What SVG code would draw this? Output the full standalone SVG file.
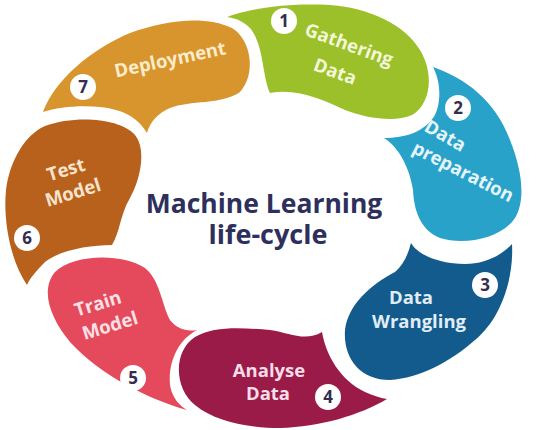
<svg xmlns="http://www.w3.org/2000/svg" width="559" height="430" viewBox="0 0 559 430">
<style>
.lbl{font-family:"Open Sans","Liberation Sans",sans-serif;font-weight:700;font-size:18.5px;text-anchor:middle}
.num{font-family:"Open Sans","Liberation Sans",sans-serif;font-weight:700;font-size:17px;text-anchor:middle;fill:#352c4e}
.badge{fill:#ffffff}
.title{font-family:"Open Sans","Liberation Sans",sans-serif;font-weight:700;text-anchor:middle;fill:#2e2f5c}
</style>
<rect width="559" height="430" fill="#ffffff"/>
<g id="connectors"/>
<g id="step7">
<path fill="#d8952d" d="M43,112 C55,80 90,50 130,33 C165,20 205,15 232,28 C252,40 256,75 240,92 C222,105 190,100 170,108 C158,113 150,122 147,133 C138,118 125,110 100,107 C80,105 58,107 43,112 Z"/>
<circle class="badge" cx="83" cy="87" r="13"/>
<text class="num" x="83" y="93">7</text>
<text class="lbl" fill="#fcecc9" font-size="20.5" transform="translate(170,59) rotate(-12)" y="7">Deployment</text>
</g>
<g id="step1">
<path fill="#9cc02a" d="M227,17 C250,8 290,3 330,5 C370,8 405,25 420,50 C435,75 430,105 412,115 C395,123 365,118 345,110 C320,98 295,88 270,93 C262,75 264,45 250,28 C243,21 235,18 227,17 Z"/>
<circle class="badge" cx="284" cy="21" r="13"/>
<text class="num" x="284" y="27">1</text>
<text class="lbl" fill="#f2f7d8" transform="translate(349,45) rotate(20)" y="6">Gathering</text>
<text class="lbl" fill="#f2f7d8" transform="translate(335,72) rotate(20)" y="6">Data</text>
</g>
<g id="step2">
<path fill="#29a2ca" d="M433,67 C465,78 495,100 510,140 C522,170 526,200 515,218 C502,238 465,246 440,238 C420,230 414,210 413,190 C410,170 400,148 384,138 C405,138 425,132 435,115 C442,100 440,80 433,67 Z"/>
<circle class="badge" cx="458" cy="108" r="13"/>
<text class="num" x="458" y="114">2</text>
<text class="lbl" fill="#e6f5fa" transform="translate(445,136) rotate(30)" y="6">Data</text>
<text class="lbl" fill="#e6f5fa" transform="translate(463,172) rotate(27)" y="6">preparation</text>
</g>
<g id="step3">
<path fill="#125b8c" d="M512,244 C514,280 500,320 475,340 C450,362 420,378 390,380 C360,380 343,358 345,330 C348,305 370,285 395,272 C403,265 408,255 411,243 C418,255 440,264 465,264 C485,264 502,255 512,244 Z"/>
<circle class="badge" cx="485" cy="285" r="13"/>
<text class="num" x="485" y="291">3</text>
<text class="lbl" fill="#e1edf6" transform="translate(411,298)" y="6">Data</text>
<text class="lbl" fill="#e1edf6" transform="translate(419,322)" y="6">Wrangling</text>
</g>
<g id="step4">
<path fill="#9b1b48" d="M387,399 C360,415 320,427 280,428 C250,428 215,422 195,405 C175,390 172,352 195,337 C215,325 245,328 270,330 C290,333 305,342 322,332 C326,355 340,380 365,392 C372,395 380,398 387,399 Z"/>
<circle class="badge" cx="328" cy="397" r="13"/>
<text class="num" x="328" y="403">4</text>
<text class="lbl" fill="#f7dde7" transform="translate(269,371)" y="6">Analyse</text>
<text class="lbl" fill="#f7dde7" transform="translate(268,394)" y="6">Data</text>
</g>
<g id="step5">
<path fill="#e4495c" d="M187,410 C150,400 100,375 70,342 C50,318 40,290 55,272 C72,255 120,252 145,268 C160,280 162,305 170,320 C176,328 186,332 197,330 C178,340 168,362 170,385 C172,398 180,406 187,410 Z"/>
<circle class="badge" cx="133" cy="378" r="13"/>
<text class="num" x="133" y="384">5</text>
<text class="lbl" fill="#fbe1e4" transform="translate(98,304) rotate(-17)" y="6">Train</text>
<text class="lbl" fill="#fbe1e4" transform="translate(110,326) rotate(-17)" y="6">Model</text>
</g>
<g id="step6">
<path fill="#b7611c" d="M27,285 C10,260 3,220 6,190 C10,160 25,135 45,126 C75,115 120,118 135,135 C147,150 140,180 130,198 C120,215 120,232 112,245 C90,245 60,250 45,262 C37,270 30,278 27,285 Z"/>
<circle class="badge" cx="27" cy="238" r="13"/>
<text class="num" x="27" y="244">6</text>
<text class="lbl" fill="#f8e3cd" transform="translate(66,170) rotate(-17)" y="6">Test</text>
<text class="lbl" fill="#f8e3cd" transform="translate(73,193) rotate(-17)" y="6">Model</text>
</g>
<g id="title">
<text class="title" x="264" y="213" font-size="26.5">Machine Learning</text>
<text class="title" x="268" y="244" font-size="27">life-cycle</text>
</g>
</svg>
